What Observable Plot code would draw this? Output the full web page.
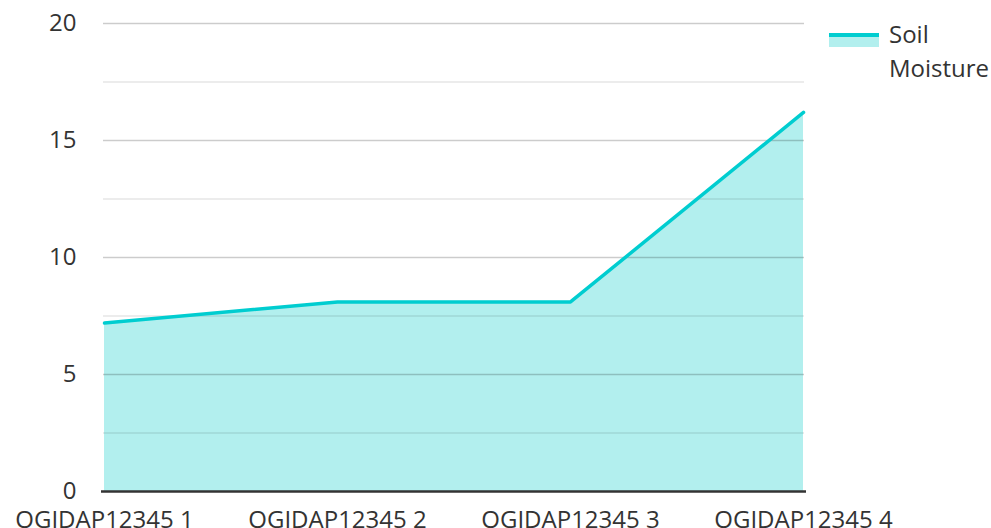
<!DOCTYPE html>
<html>
<head>
<meta charset="utf-8">
<script src="https://cdn.jsdelivr.net/npm/d3@7"></script>
<script src="https://cdn.jsdelivr.net/npm/@observablehq/plot@0.6"></script>
<style>
  body { margin: 0; background: #fff; font-family: "Open Sans", sans-serif; }
  #wrap { position: relative; width: 991px; height: 528px; }
  #legend { position: absolute; left: 829px; top: 17px; font-size: 24px; color: #333; line-height: 34px; }
  #legend .sw { position: absolute; left: 0; top: 16px; width: 50px; height: 14px; }
  #legend .sw .ln { height: 4px; background: #00cdd0; }
  #legend .sw .fl { height: 10px; background: #b2efee; }
  #legend .txt { margin-left: 60px; }
</style>
</head>
<body>
<div id="wrap">
  <div id="chart"></div>
  <div id="legend"><div class="sw"><div class="ln"></div><div class="fl"></div></div><div class="txt">Soil<br>Moisture</div></div>
</div>
<script>
const categories = ["OGIDAP12345 1", "OGIDAP12345 2", "OGIDAP12345 3", "OGIDAP12345 4"];
const soilMoisture = [7.2, 8.1, 8.1, 16.2];
const majorTicks = [0, 5, 10, 15, 20];
const minorTicks = [2.5, 7.5, 12.5, 17.5];
const seriesName = "Soil Moisture";

const data = categories.map((c, i) => ({name: c, value: soilMoisture[i]}));

const chart = Plot.plot({
  width: 991,
  height: 528,
  marginLeft: 103,
  marginRight: 187,
  marginTop: 23,
  marginBottom: 37,
  style: {fontFamily: "Open Sans, sans-serif", fontSize: "24px", color: "#333", overflow: "visible"},
  x: {type: "point", domain: categories, padding: 0},
  y: {domain: [0, 20]},
  marks: [
    Plot.areaY(data, {x: "name", y: "value", fill: "#b2efee"}),
    Plot.ruleY(minorTicks, {stroke: "#000", strokeOpacity: 0.1, strokeWidth: 1.5}),
    Plot.ruleY(majorTicks.filter(d => d > 0), {stroke: "#000", strokeOpacity: 0.2, strokeWidth: 1.5}),
    Plot.lineY(data, {x: "name", y: "value", stroke: "#00cdd0", strokeWidth: 3.5}),
    Plot.ruleY([0], {stroke: "#333", strokeWidth: 2.5, insetLeft: -2, insetRight: -2}),
    Plot.axisY({ticks: majorTicks, tickSize: 0, tickPadding: 27, fontSize: 24, label: null}),
    Plot.axisX({tickSize: 0, tickPadding: 19, fontSize: 24, label: null})
  ]
});
document.getElementById("chart").appendChild(chart);
</script>
</body>
</html>
